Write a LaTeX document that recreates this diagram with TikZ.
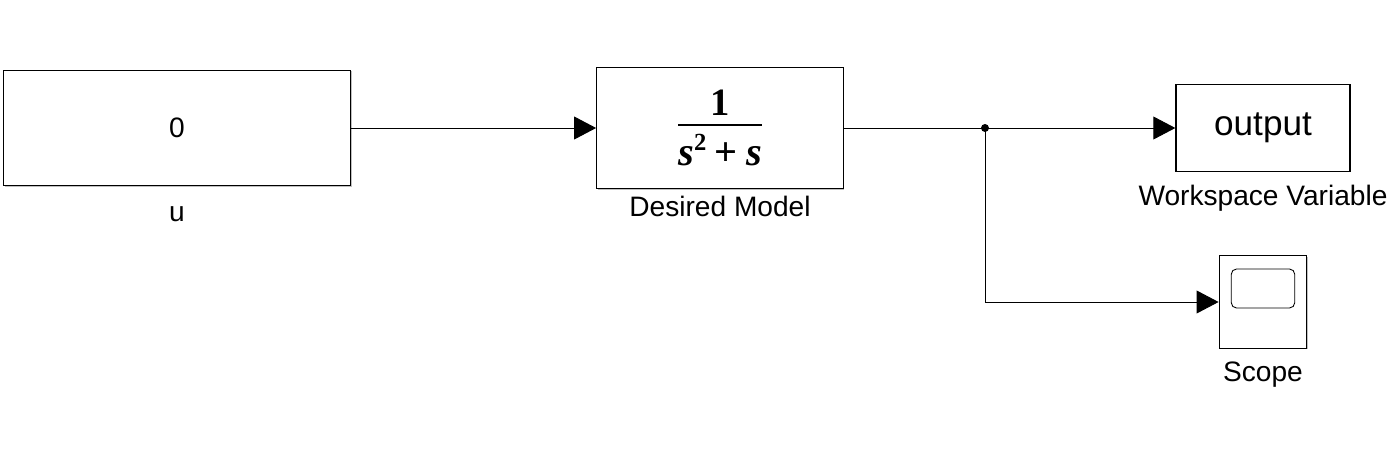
\documentclass[tikz,border=0pt]{standalone}
\usepackage{amsmath}
\usepackage{fontspec}
\setmainfont{Liberation Sans}
\newfontfamily\tnr{Liberation Serif}
\usetikzlibrary{arrows.meta,shadows}

\begin{document}
\begin{tikzpicture}[
  x=0.02cm, y=-0.02cm,
  sim_block/.style={rectangle, draw, line width=0.75pt, fill=white, inner sep=0pt,
    drop shadow={shadow xshift=0.7pt, shadow yshift=-0.7pt, fill=black!50, opacity=0.5}},
  block_label/.style={anchor=base, inner sep=0pt, font=\fontsize{16}{19}\selectfont},
  signal/.style={line width=0.55pt, -{Triangle[length=12.5pt, width=13pt]}},
  wire/.style={line width=0.55pt},
]
\useasboundingbox (0,0) rectangle (1400,463);
\node (u) [sim_block, minimum width=6.95cm, minimum height=2.31cm, font=\fontsize{16}{19}\selectfont] at (177,128) {0};
\node (u_label) [block_label] at (177,221) {u};
\node (model) [sim_block, minimum width=4.93cm, minimum height=2.43cm] at (720,128)
  {$\genfrac{}{}{1.5pt}{0}{\mbox{\tnr\bfseries\fontsize{22}{26}\selectfont 1}}{\mbox{\tnr\bfseries\itshape\fontsize{23}{27}\selectfont s}^{\mbox{\tnr\bfseries\fontsize{14}{17}\selectfont 2}}\mbox{\tnr\bfseries\fontsize{23}{27}\selectfont\hspace{4pt}+\hspace{5pt}}\mbox{\tnr\bfseries\itshape\fontsize{23}{27}\selectfont s}}$};
\node (model_label) [block_label] at (720,216) {Desired Model};
\node (out) [sim_block, minimum width=3.48cm, minimum height=1.73cm, font=\fontsize{20}{24}\selectfont] at (1263,128) {output};
\node (out_label) [block_label] at (1263,205) {Workspace Variable};
\node (scope) [sim_block, minimum width=1.75cm, minimum height=1.85cm] at (1263,302) {};
\node (screen) [rectangle, draw, line width=0.5pt, rounded corners=3pt, minimum width=1.27cm, minimum height=0.78cm] at (1263,288.5) {};
\node (scope_label) [block_label] at (1263,381) {Scope};
\coordinate (split) at (985,128);
\draw[signal] (u.east) -- (model.west);
\draw[wire] (model.east) -- (split);
\draw[signal] (split) -- (out.west);
\draw[signal] (split) |- (scope.west);
\fill (split) circle (4);
\end{tikzpicture}
\end{document}
